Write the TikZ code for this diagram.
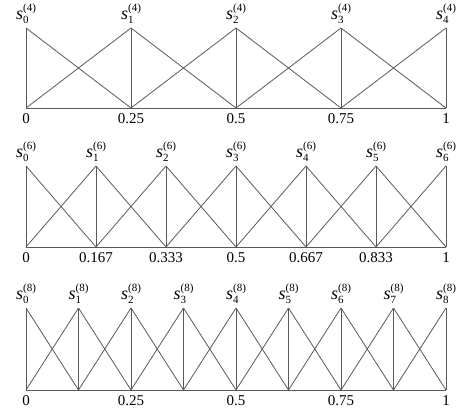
\documentclass[tikz,border=0pt]{standalone}
\usepackage{fontspec}
\setmainfont{Liberation Serif}
\newcommand\slab[2]{\textit{s}\makebox[0pt][l]{\raisebox{-0.5ex}{\fontsize{11}{11}\selectfont #1}}\raisebox{1.0ex}{\fontsize{11}{11}\selectfont (#2)}}
\tikzset{
  hat/.style={draw=black!65, line width=0.8pt},
  slabel/.style={anchor=south, inner sep=0pt, font=\fontsize{18}{18}\selectfont},
  xlabel/.style={anchor=north, inner sep=0pt, font=\fontsize{15}{15}\selectfont},
}
\begin{document}
\begin{tikzpicture}[x=1pt,y=-1pt]
\useasboundingbox (0,0) rectangle (474,413);
\foreach \pp/\n/\yt/\yb in {1/4/28/108, 2/6/166/247, 3/8/308/390} {
  \foreach \i in {0,...,\n} {
    \pgfmathsetmacro\xx{26+420*\i/\n}
    \coordinate (t\pp-\i) at (\xx,\yt);
    \coordinate (b\pp-\i) at (\xx,\yb);
    \node[slabel] (s\pp-\i) at ([yshift=4pt]t\pp-\i) {\slab{\i}{\n}};
  }
  \draw[hat] (b\pp-0) -- (b\pp-\n);
  \foreach \i in {0,...,\n} {
    \draw[hat] (b\pp-\i) -- (t\pp-\i);
  }
  \pgfmathtruncatemacro\nm{\n-1}
  \foreach \i in {0,...,\nm} {
    \pgfmathtruncatemacro\j{\i+1}
    \draw[hat] (t\pp-\i) -- (b\pp-\j);
    \draw[hat] (b\pp-\i) -- (t\pp-\j);
  }
}
% axis labels
\foreach \i/\t in {0/0,1/0.25,2/0.5,3/0.75,4/1}
  \node[xlabel] (x1-\i) at ([yshift=-5pt]b1-\i) {\t};
\foreach \i/\t in {0/0,1/0.167,2/0.333,3/0.5,4/0.667,5/0.833,6/1}
  \node[xlabel] (x2-\i) at ([yshift=-5pt]b2-\i) {\t};
\foreach \i/\t in {0/0,2/0.25,4/0.5,6/0.75,8/1}
  \node[xlabel] (x3-\i) at ([yshift=-5pt]b3-\i) {\t};
\end{tikzpicture}
\end{document}
